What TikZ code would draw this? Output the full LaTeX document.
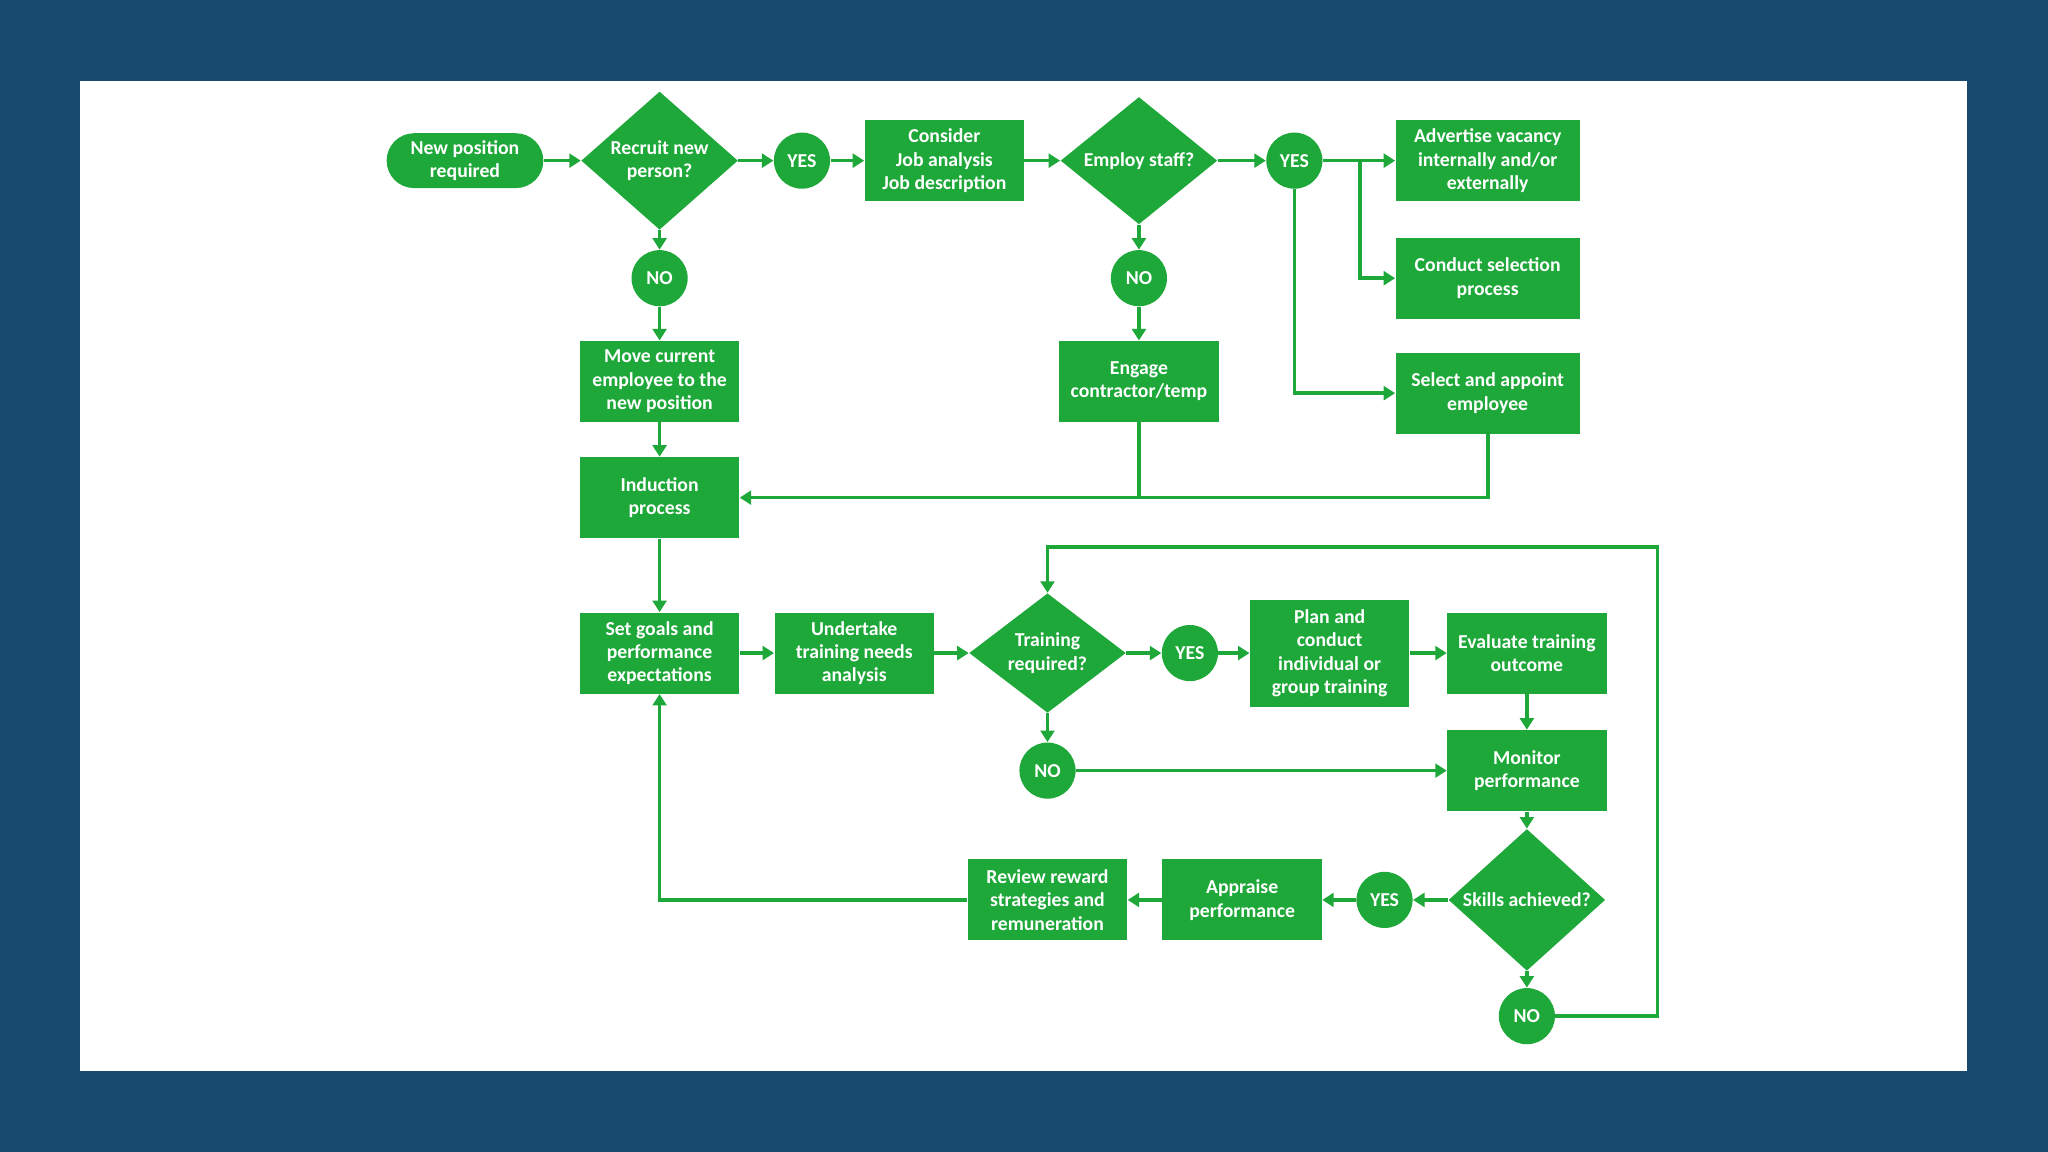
\documentclass[tikz,border=0pt]{standalone}
\usepackage{fontspec}
\setmainfont{Carlito}
\usetikzlibrary{shapes.geometric,arrows.meta}
\definecolor{bg}{HTML}{174A6E}
\definecolor{gr}{HTML}{1FA83A}
\begin{document}
\begin{tikzpicture}[x=0.02cm,y=-0.02cm,
 base/.style={fill=gr,text=white,font=\bfseries\fontsize{8.6}{10.2}\selectfont,align=center,inner sep=0pt},
 box/.style={base,rectangle,minimum width=2.44cm,minimum height=1.24cm},
 wbox/.style={box,minimum width=2.82cm},
 dia/.style={base,diamond,minimum width=2.4cm,minimum height=1.6cm},
 circ/.style={base,circle,minimum size=0.86cm},
 ar/.style={draw=gr,line width=1.6pt,-{Triangle[length=5pt,width=6pt]}},
 ln/.style={draw=gr,line width=1.6pt}]
\useasboundingbox (0,0) rectangle (1568,882);
\fill[bg] (0,0) rectangle (1568,882);
\fill[white] (61,62) rectangle (1506,820);
\node[base,rounded corners=0.42cm,minimum width=2.4cm,minimum height=0.84cm] (np) at (356,123) {New position\\required};
\node[dia] (rec) at (505,123) {Recruit new\\person?};
\node[circ] (y1) at (614,123) {YES};
\node[box] (con) at (723,123) {Consider\\Job analysis\\Job description};
\node[dia] (emp) at (872,123) {Employ staff?};
\node[circ] (y2) at (991,123) {YES};
\node[wbox] (adv) at (1139,123) {Advertise vacancy\\internally and/or\\externally};
\node[wbox] (cs) at (1139,213) {Conduct selection\\process};
\node[wbox] (sel) at (1139,301) {Select and appoint\\employee};
\node[circ] (n1) at (505,213) {NO};
\node[circ] (n2) at (872,213) {NO};
\node[box] (mv) at (505,292) {Move current\\employee to the\\new position};
\node[box] (eng) at (872,292) {Engage\\contractor/temp};
\node[box] (ind) at (505,381) {Induction\\process};
\node[box] (sg) at (505,500) {Set goals and\\performance\\expectations};
\node[box] (ut) at (654,500) {Undertake\\training needs\\analysis};
\node[dia] (tr) at (802,500) {Training\\required?};
\node[circ] (y3) at (911,500) {YES};
\node[box,minimum height=1.64cm] (pl) at (1018,500) {Plan and\\conduct\\individual or\\group training};
\node[box] (ev) at (1169,500) {Evaluate training\\outcome};
\node[circ] (n3) at (802,590) {NO};
\node[box] (mo) at (1169,590) {Monitor\\performance};
\node[dia] (sk) at (1169,689) {Skills achieved?};
\node[circ] (y4) at (1060,689) {YES};
\node[box] (ap) at (951,689) {Appraise\\performance};
\node[box] (rv) at (802,689) {Review reward\\strategies and\\remuneration};
\node[circ] (n4) at (1169,778) {NO};
\coordinate (c1) at (1041,123);
\coordinate (c2) at (1269,778);
\coordinate (c3) at (1269,419);
\coordinate (c4) at (802,419);
\draw[ar] (np)--(rec);
\draw[ar] (rec)--(y1);
\draw[ar] (y1)--(con);
\draw[ar] (con)--(emp);
\draw[ar] (emp)--(y2);
\draw[ar] (y2)--(adv);
\draw[ar] (c1)|-(cs);
\draw[ar] (y2)|-(sel);
\draw[ar] (rec)--(n1);
\draw[ar] (n1)--(mv);
\draw[ar] (mv)--(ind);
\draw[ar] (emp)--(n2);
\draw[ar] (n2)--(eng);
\draw[ar] (eng)|-(ind);
\draw[ln] (sel.south)|-(eng.south|-ind);
\draw[ar] (ind)--(sg);
\draw[ar] (sg)--(ut);
\draw[ar] (ut)--(tr);
\draw[ar] (tr)--(y3);
\draw[ar] (y3)--(pl);
\draw[ar] (pl)--(ev);
\draw[ar] (ev)--(mo);
\draw[ar] (tr)--(n3);
\draw[ar] (n3)--(mo);
\draw[ar] (mo)--(sk);
\draw[ar] (sk)--(y4);
\draw[ar] (y4)--(ap);
\draw[ar] (ap)--(rv);
\draw[ar] (rv)-|(sg);
\draw[ar] (sk)--(n4);
\draw[ar] (n4)--(c2)--(c3)--(c4)--(tr);
\end{tikzpicture}
\end{document}
